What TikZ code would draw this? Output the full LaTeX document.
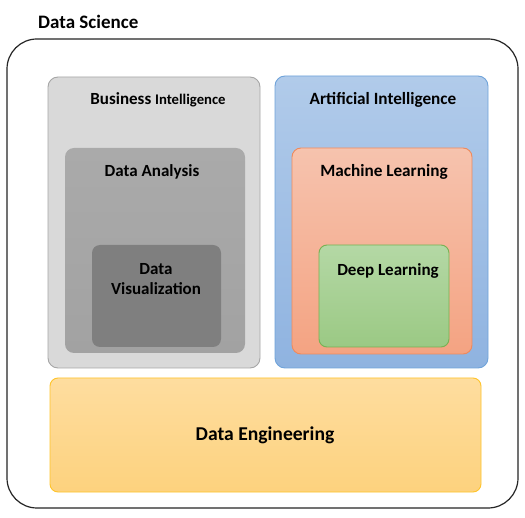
\documentclass[tikz,border=0pt]{standalone}
\usepackage{fontspec}
\setmainfont{Carlito}
\begin{document}
\begin{tikzpicture}[x=1pt,y=-1pt,
  box/.style={rounded corners=#1, line width=0.9pt},
  lbl/.style={font=\bfseries, text=black, align=center, inner sep=0pt}]
\definecolor{biF}{HTML}{D9D9D9}\definecolor{biB}{HTML}{A6A6A6}
\definecolor{daT}{HTML}{AAAAAA}\definecolor{daB}{HTML}{A2A2A2}
\definecolor{dvF}{HTML}{7F7F7F}
\definecolor{aiT}{HTML}{B1CBEA}\definecolor{aiB}{HTML}{8FB3E0}\definecolor{aiD}{HTML}{6FA3DA}
\definecolor{mlT}{HTML}{F6C3AE}\definecolor{mlB}{HTML}{F4A382}\definecolor{mlD}{HTML}{EF8A5C}
\definecolor{dlT}{HTML}{B4D8A5}\definecolor{dlB}{HTML}{9BC984}\definecolor{dlD}{HTML}{78B152}
\definecolor{deT}{HTML}{FEDD9F}\definecolor{deB}{HTML}{FDD27E}\definecolor{deD}{HTML}{FFC42A}
\useasboundingbox (0,0) rectangle (525,518);
\fill[white] (0,0) rectangle (525,518);
% outer
\draw[rounded corners=30pt, line width=1.2pt, black!85] (7,39) rectangle (518,508);
\node[lbl, font=\bfseries\fontsize{19}{21}\selectfont, anchor=west] (ds) at (38,22) {Data Science};
% Business Intelligence
\draw[box=10pt, draw=biB, fill=biF] (48,77) rectangle (260,368);
\node[lbl, font=\bfseries\fontsize{17}{19}\selectfont] (bi) at (158,100) {Business {\fontsize{14.7}{16}\selectfont Intelligence}};
\shade[rounded corners=9pt, top color=daT, bottom color=daB] (65,148) rectangle (245,353);
\node[lbl, font=\bfseries\fontsize{17}{19}\selectfont] (da) at (152,172) {Data Analysis};
\fill[rounded corners=8pt, dvF] (92,245) rectangle (221,347);
\node[lbl, font=\bfseries\fontsize{17}{20.5}\selectfont] (dv) at (156,279) {Data\\Visualization};
% Artificial Intelligence
\shade[box=10pt, draw=aiD, top color=aiT, bottom color=aiB] (275,76) rectangle (488,368);
\node[lbl, font=\bfseries\fontsize{17.2}{19}\selectfont] (ai) at (383,100) {Artificial Intelligence};
\shade[box=9pt, draw=mlD, top color=mlT, bottom color=mlB] (292,148) rectangle (472,354);
\node[lbl, font=\bfseries\fontsize{17.2}{19}\selectfont] (ml) at (384,172) {Machine Learning};
\shade[box=8pt, draw=dlD, top color=dlT, bottom color=dlB] (319,245) rectangle (449,347);
\node[lbl, font=\bfseries\fontsize{17}{19}\selectfont] (dl) at (388,271) {Deep Learning};
% Data Engineering
\shade[box=8pt, draw=deD, top color=deT, bottom color=deB] (50,378) rectangle (481,492);
\node[lbl, font=\bfseries\fontsize{19.6}{21}\selectfont] (de) at (265,435) {Data Engineering};
\end{tikzpicture}
\end{document}
